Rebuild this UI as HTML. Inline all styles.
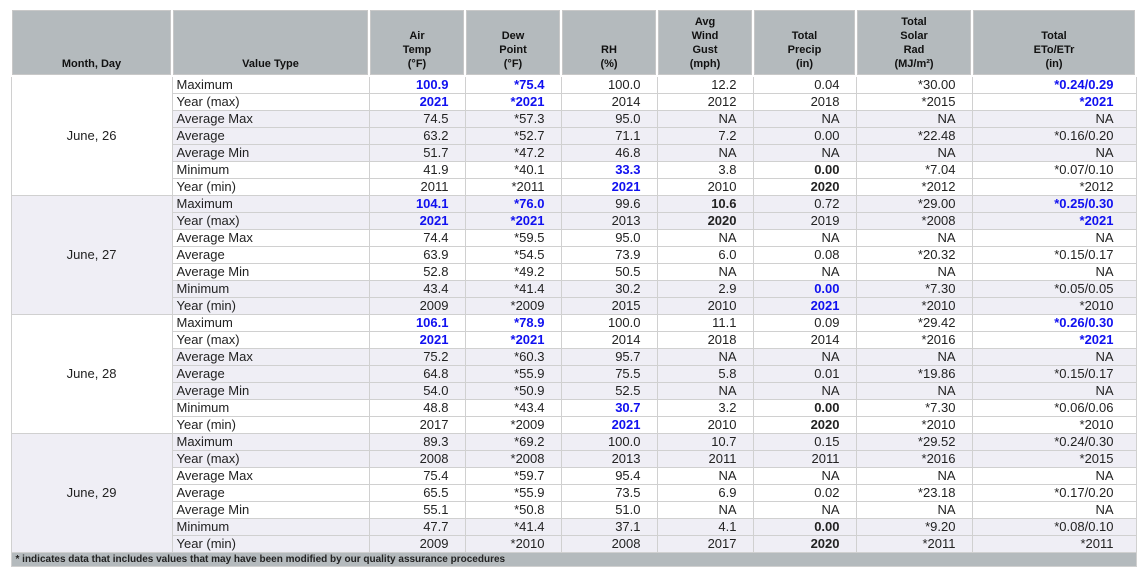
<!DOCTYPE html>
<html><head><meta charset="utf-8"><style>
body{margin:0;background:#fff;font-family:"Liberation Sans",Arial,sans-serif;}
table{position:absolute;left:10px;top:8px;border-collapse:collapse;table-layout:fixed;width:1125px;}
th{background:#b4babd;font-size:11px;font-weight:bold;color:#111;vertical-align:bottom;text-align:center;height:61px;padding:0 0 4px 0;border:2px solid #fff;outline:1px solid #c8c8c8;outline-offset:-2px;line-height:14px;}
td{border:1px solid #d0d0d0;height:16px;padding:0 16px 0 4px;font-size:13px;color:#222;text-align:right;line-height:16px;white-space:nowrap;}
td.v{text-align:left;padding-left:4px;}
td.d{text-align:center;padding:0;}
tr.g td{background:#efeef5;}
tr.w td{background:#fff;}
td.l{padding-right:22px;}
.b{color:#1010f0;font-weight:bold;}
.k{font-weight:bold;}
tr.f td{background:#b4babd;font-size:10px;font-weight:bold;text-align:left;height:13px;line-height:13px;padding:0 4px;}
</style></head><body>
<table>
<colgroup><col style="width:161px"><col style="width:197px"><col style="width:96px"><col style="width:96px"><col style="width:96px"><col style="width:96px"><col style="width:103px"><col style="width:116px"><col style="width:164px"></colgroup>
<tr><th>Month, Day</th><th>Value Type</th><th>Air<br>Temp<br>(°F)</th><th>Dew<br>Point<br>(°F)</th><th>RH<br>(%)</th><th>Avg<br>Wind<br>Gust<br>(mph)</th><th>Total<br>Precip<br>(in)</th><th>Total<br>Solar<br>Rad<br>(MJ/m²)</th><th>Total<br>ETo/ETr<br>(in)</th></tr>

<tr class="w"><td class="d" rowspan="7" style="background:#fff">June, 26</td><td class="v">Maximum</td><td class="b">100.9</td><td class="b">*75.4</td><td>100.0</td><td>12.2</td><td>0.04</td><td>*30.00</td><td class="l b">*0.24/0.29</td></tr>
<tr class="w"><td class="v">Year (max)</td><td class="b">2021</td><td class="b">*2021</td><td>2014</td><td>2012</td><td>2018</td><td>*2015</td><td class="l b">*2021</td></tr>
<tr class="g"><td class="v">Average Max</td><td>74.5</td><td>*57.3</td><td>95.0</td><td>NA</td><td>NA</td><td>NA</td><td class="l">NA</td></tr>
<tr class="g"><td class="v">Average</td><td>63.2</td><td>*52.7</td><td>71.1</td><td>7.2</td><td>0.00</td><td>*22.48</td><td class="l">*0.16/0.20</td></tr>
<tr class="g"><td class="v">Average Min</td><td>51.7</td><td>*47.2</td><td>46.8</td><td>NA</td><td>NA</td><td>NA</td><td class="l">NA</td></tr>
<tr class="w"><td class="v">Minimum</td><td>41.9</td><td>*40.1</td><td class="b">33.3</td><td>3.8</td><td class="k">0.00</td><td>*7.04</td><td class="l">*0.07/0.10</td></tr>
<tr class="w"><td class="v">Year (min)</td><td>2011</td><td>*2011</td><td class="b">2021</td><td>2010</td><td class="k">2020</td><td>*2012</td><td class="l">*2012</td></tr>

<tr class="g"><td class="d" rowspan="7" style="background:#efeef5">June, 27</td><td class="v">Maximum</td><td class="b">104.1</td><td class="b">*76.0</td><td>99.6</td><td class="k">10.6</td><td>0.72</td><td>*29.00</td><td class="l b">*0.25/0.30</td></tr>
<tr class="g"><td class="v">Year (max)</td><td class="b">2021</td><td class="b">*2021</td><td>2013</td><td class="k">2020</td><td>2019</td><td>*2008</td><td class="l b">*2021</td></tr>
<tr class="w"><td class="v">Average Max</td><td>74.4</td><td>*59.5</td><td>95.0</td><td>NA</td><td>NA</td><td>NA</td><td class="l">NA</td></tr>
<tr class="w"><td class="v">Average</td><td>63.9</td><td>*54.5</td><td>73.9</td><td>6.0</td><td>0.08</td><td>*20.32</td><td class="l">*0.15/0.17</td></tr>
<tr class="w"><td class="v">Average Min</td><td>52.8</td><td>*49.2</td><td>50.5</td><td>NA</td><td>NA</td><td>NA</td><td class="l">NA</td></tr>
<tr class="g"><td class="v">Minimum</td><td>43.4</td><td>*41.4</td><td>30.2</td><td>2.9</td><td class="b">0.00</td><td>*7.30</td><td class="l">*0.05/0.05</td></tr>
<tr class="g"><td class="v">Year (min)</td><td>2009</td><td>*2009</td><td>2015</td><td>2010</td><td class="b">2021</td><td>*2010</td><td class="l">*2010</td></tr>

<tr class="w"><td class="d" rowspan="7" style="background:#fff">June, 28</td><td class="v">Maximum</td><td class="b">106.1</td><td class="b">*78.9</td><td>100.0</td><td>11.1</td><td>0.09</td><td>*29.42</td><td class="l b">*0.26/0.30</td></tr>
<tr class="w"><td class="v">Year (max)</td><td class="b">2021</td><td class="b">*2021</td><td>2014</td><td>2018</td><td>2014</td><td>*2016</td><td class="l b">*2021</td></tr>
<tr class="g"><td class="v">Average Max</td><td>75.2</td><td>*60.3</td><td>95.7</td><td>NA</td><td>NA</td><td>NA</td><td class="l">NA</td></tr>
<tr class="g"><td class="v">Average</td><td>64.8</td><td>*55.9</td><td>75.5</td><td>5.8</td><td>0.01</td><td>*19.86</td><td class="l">*0.15/0.17</td></tr>
<tr class="g"><td class="v">Average Min</td><td>54.0</td><td>*50.9</td><td>52.5</td><td>NA</td><td>NA</td><td>NA</td><td class="l">NA</td></tr>
<tr class="w"><td class="v">Minimum</td><td>48.8</td><td>*43.4</td><td class="b">30.7</td><td>3.2</td><td class="k">0.00</td><td>*7.30</td><td class="l">*0.06/0.06</td></tr>
<tr class="w"><td class="v">Year (min)</td><td>2017</td><td>*2009</td><td class="b">2021</td><td>2010</td><td class="k">2020</td><td>*2010</td><td class="l">*2010</td></tr>

<tr class="g"><td class="d" rowspan="7" style="background:#efeef5">June, 29</td><td class="v">Maximum</td><td>89.3</td><td>*69.2</td><td>100.0</td><td>10.7</td><td>0.15</td><td>*29.52</td><td class="l">*0.24/0.30</td></tr>
<tr class="g"><td class="v">Year (max)</td><td>2008</td><td>*2008</td><td>2013</td><td>2011</td><td>2011</td><td>*2016</td><td class="l">*2015</td></tr>
<tr class="w"><td class="v">Average Max</td><td>75.4</td><td>*59.7</td><td>95.4</td><td>NA</td><td>NA</td><td>NA</td><td class="l">NA</td></tr>
<tr class="w"><td class="v">Average</td><td>65.5</td><td>*55.9</td><td>73.5</td><td>6.9</td><td>0.02</td><td>*23.18</td><td class="l">*0.17/0.20</td></tr>
<tr class="w"><td class="v">Average Min</td><td>55.1</td><td>*50.8</td><td>51.0</td><td>NA</td><td>NA</td><td>NA</td><td class="l">NA</td></tr>
<tr class="g"><td class="v">Minimum</td><td>47.7</td><td>*41.4</td><td>37.1</td><td>4.1</td><td class="k">0.00</td><td>*9.20</td><td class="l">*0.08/0.10</td></tr>
<tr class="g"><td class="v">Year (min)</td><td>2009</td><td>*2010</td><td>2008</td><td>2017</td><td class="k">2020</td><td>*2011</td><td class="l">*2011</td></tr>
<tr class="f"><td colspan="9">* indicates data that includes values that may have been modified by our quality assurance procedures</td></tr>
</table>
</body></html>
